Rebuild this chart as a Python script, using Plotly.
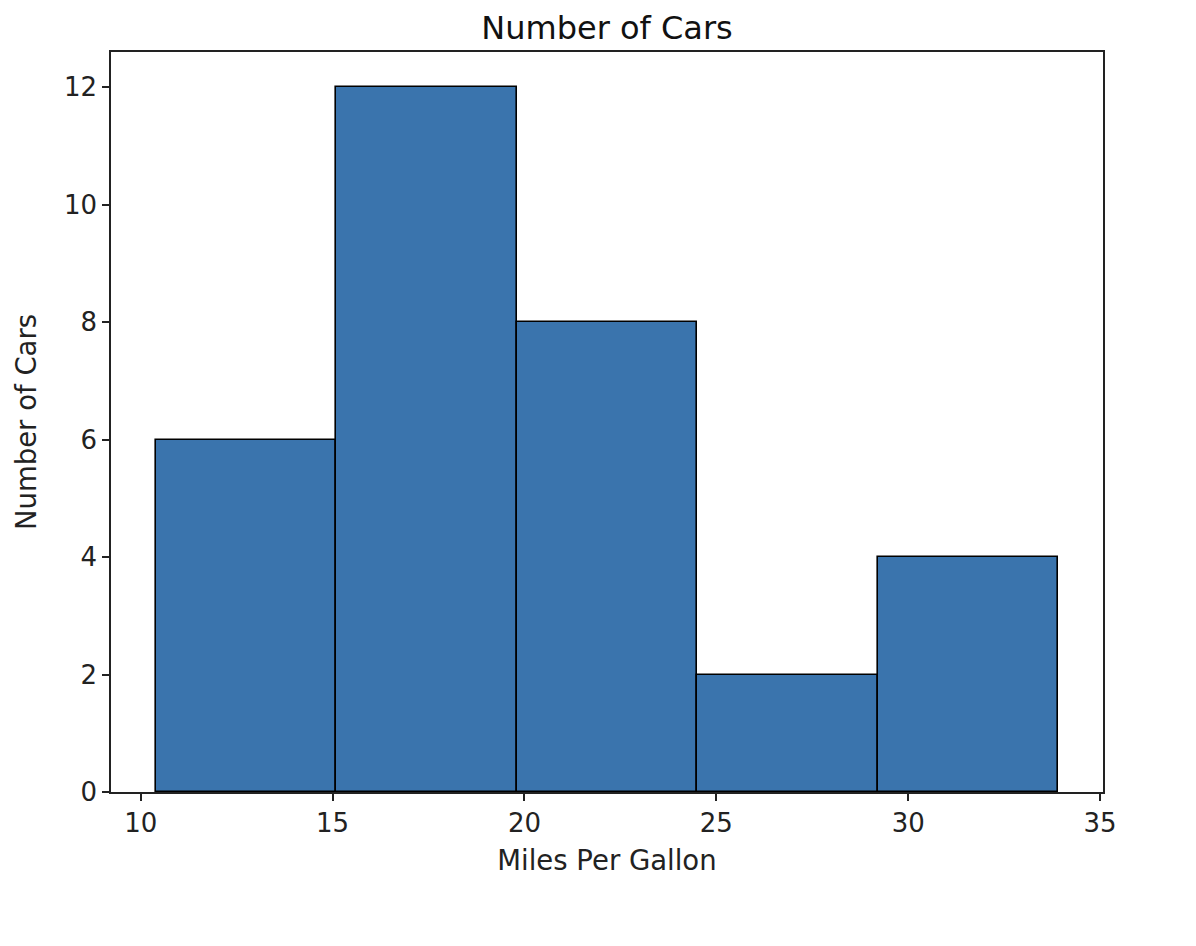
import plotly.graph_objects as go

bin_edges = [10.4, 15.1, 19.8, 24.5, 29.2, 33.9]
counts = [6, 12, 8, 2, 4]
x_ticks = [10, 15, 20, 25, 30, 35]
y_ticks = [0, 2, 4, 6, 8, 10, 12]

lefts = bin_edges[:-1]
widths = [b - a for a, b in zip(bin_edges[:-1], bin_edges[1:])]
centers = [a + w / 2 for a, w in zip(lefts, widths)]

FONT = "DejaVu Sans"

fig = go.Figure(go.Bar(
    x=centers, y=counts, width=widths,
    marker=dict(color="#3a74ad", line=dict(color="black", width=1.6)),
))

fig.update_layout(
    width=1188, height=938,
    margin=dict(l=103, r=93, t=44, b=154),
    plot_bgcolor="white", paper_bgcolor="white",
    font=dict(family=FONT, color="#222222", size=27),
    title=dict(text="Number of Cars", x=0.5, xanchor="center", y=1 - 20 / 938, yanchor="middle",
               xref="paper", font=dict(size=32, family=FONT, color="#111111")),
    showlegend=False,
    bargap=0,
)
fig.update_xaxes(
    range=[9.225, 35.075], tickvals=x_ticks, ticks="outside", ticklen=7, tickwidth=1.5,
    tickcolor="#222222", showline=True, linecolor="#222222", linewidth=1.5, mirror=True,
    showgrid=False, zeroline=False, tickfont=dict(size=26),
    title=dict(text="Miles Per Gallon", font=dict(size=27.5), standoff=14),
)
fig.update_yaxes(
    range=[0, 12.6], tickvals=y_ticks, ticks="outside", ticklen=7, tickwidth=1.5,
    tickcolor="#222222", showline=True, linecolor="#222222", linewidth=1.5, mirror=True,
    showgrid=False, zeroline=False, tickfont=dict(size=26),
    title=dict(text="Number of Cars", font=dict(size=27.5), standoff=19),
)

fig.write_html("out.html")
